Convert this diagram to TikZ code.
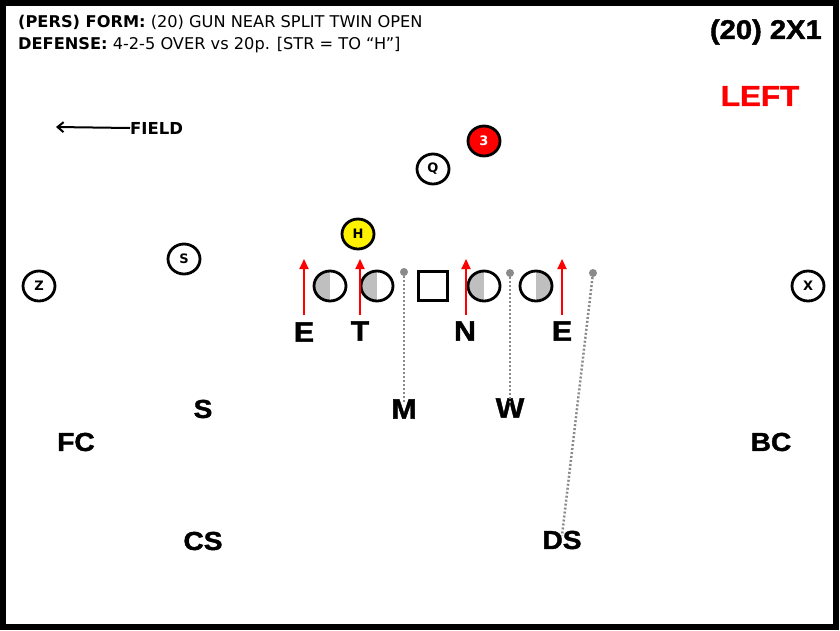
\documentclass[tikz,border=0pt]{standalone}
\usepackage{fontspec}
\setmainfont{DejaVu Sans}
\newfontfamily\heavyfont{Liberation Sans}[BoldFeatures={FakeBold=1.5,FakeStretch=1.08}]
\usetikzlibrary{shapes.geometric,arrows.meta}
\definecolor{halfgray}{HTML}{BFBFBF}
\definecolor{dotgray}{HTML}{8A8A8A}
\tikzset{
  player/.style={ellipse,draw=black,line width=2.8pt,minimum width=32,minimum height=30,inner sep=0pt,font=\bfseries\fontsize{13}{13}\selectfont},
  lineman/.style={ellipse,draw=black,line width=2.8pt,minimum width=32,minimum height=30,inner sep=0pt},
  shadeleft/.style={path picture={\fill[halfgray] (path picture bounding box.south west) rectangle (path picture bounding box.north);}},
  shaderight/.style={path picture={\fill[halfgray] (path picture bounding box.south) rectangle (path picture bounding box.north east);}},
  deflabel/.style={inner sep=0pt,font=\heavyfont\bfseries\fontsize{26}{26}\selectfont},
  bigletter/.style={deflabel,font=\heavyfont\bfseries\fontsize{28}{28}\selectfont},
  rush/.style={red,line width=2.2pt,-{Triangle[length=10pt,width=9pt]}},
  read/.style={dotgray,line width=2.5pt,dash pattern=on 2pt off 2pt},
  readdot/.style={circle,fill=dotgray,inner sep=0pt,minimum size=8pt}
}
\begin{document}
\begin{tikzpicture}[x=1pt,y=-1pt]
\useasboundingbox (0,0) rectangle (840,630);
\draw[line width=5.5pt] (2.75,2.75) rectangle (836,627);
\node[anchor=west,inner sep=0pt,font=\fontsize{16.2}{18}\selectfont] (form) at (18,22) {\textbf{(PERS) FORM:} (20) GUN NEAR SPLIT TWIN OPEN};
\node[anchor=west,inner sep=0pt,font=\fontsize{16.2}{18}\selectfont] (def) at (18,45) {\textbf{DEFENSE:} 4-2-5 OVER vs 20p. [STR = TO “H”]};
\node[anchor=east,inner sep=0pt,font=\heavyfont\bfseries\fontsize{27}{27}\selectfont] (pers) at (822,32) {(20) 2X1};
\node[inner sep=0pt,red,font=\heavyfont\bfseries\fontsize{29}{29}\selectfont] (side) at (760,96) {LEFT};
\node[anchor=west,inner sep=0pt,font=\bfseries\fontsize{16.5}{16.5}\selectfont] (field) at (130,128) {FIELD};
\coordinate (fieldtip) at (56,127);
\draw[line width=2pt,-{Straight Barb[length=6pt,width=10pt]}] (field.west) -- (fieldtip);
% offense
\node[player,fill=red,text=white] (three) at (484,141) {3};
\node[player] (q) at (433,169) {Q};
\node[player,fill=yellow] (h) at (358,234) {H};
\node[player] (s) at (184,259) {S};
\node[player] (z) at (39,286) {Z};
\node[player] (x) at (808,286) {X};
\node[draw=black,line width=2.8pt,minimum size=29,inner sep=0pt] (c) at (433,286) {};
\node[lineman,shadeleft] (lt) at (330,286) {};
\node[lineman,shadeleft] (lg) at (377,286) {};
\node[lineman,shadeleft] (rg) at (484,286) {};
\node[lineman,shaderight] (rt) at (536,286) {};
% defense
\node[bigletter] (ee) at (304,332) {E};
\node[bigletter] (t) at (360,331) {T};
\node[bigletter] (n) at (465,331) {N};
\node[bigletter] (e) at (562,331) {E};
\node[bigletter] (m) at (404,409) {M};
\node[bigletter] (w) at (510,408) {W};
\node[deflabel] (ss) at (203,409) {S};
\node[deflabel] (fc) at (76,442) {FC};
\node[deflabel] (bc) at (771,442) {BC};
\node[deflabel] (cs) at (203,541) {CS};
\node[deflabel] (ds) at (562,540) {DS};
\coordinate (eebase) at (304,315);
\coordinate (tbase) at (360,315);
\coordinate (nbase) at (466,315);
\coordinate (ebase) at (562,315);
\coordinate (eetip) at (304,259);
\coordinate (ttip) at (360,259);
\coordinate (ntip) at (466,259);
\coordinate (etip) at (562,259);
\draw[rush] (eebase) -- (eetip);
\draw[rush] (tbase) -- (ttip);
\draw[rush] (nbase) -- (ntip);
\draw[rush] (ebase) -- (etip);
\node[readdot] (mdot) at (404,272) {};
\node[readdot] (wdot) at (510,273) {};
\node[readdot] (dsdot) at (593,273) {};
\draw[read] (mdot) -- ([yshift=-5pt]m.north);
\draw[read] (wdot) -- ([yshift=-5pt]w.north);
\draw[read] (dsdot) -- ([yshift=-5pt]ds.north);
\end{tikzpicture}
\end{document}
